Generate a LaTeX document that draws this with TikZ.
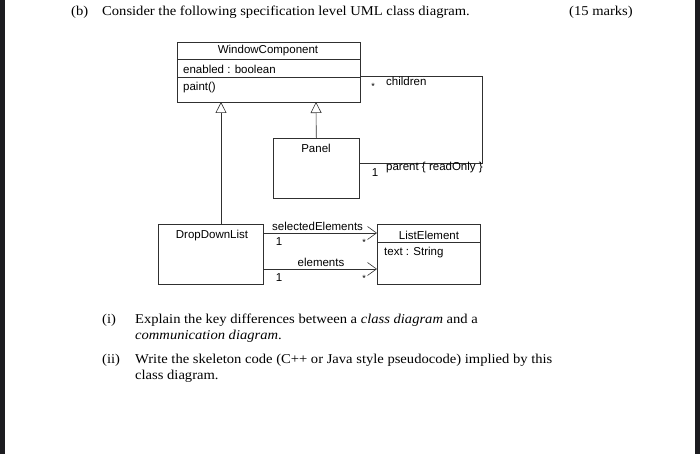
\documentclass[tikz,border=0pt]{standalone}
\usepackage{xcolor}
\usepackage{fontspec}
\setmainfont[FakeStretch=1.08]{Liberation Serif}
\newfontfamily\umlfont{Liberation Sans}
\usetikzlibrary{positioning,arrows.meta}

\definecolor{edgedark}{HTML}{1C1C20}
\definecolor{umlline}{HTML}{303030}

\tikzset{
  classbox/.style={draw=umlline, line width=0.6pt, rectangle, inner sep=0pt, anchor=north west},
  umltext/.style={font=\umlfont\fontsize{11.5}{13}\selectfont, inner sep=0pt},
  multtext/.style={font=\umlfont\fontsize{9}{10}\selectfont, inner sep=0pt},
  qtext/.style={font=\fontsize{13.5}{16}\selectfont, inner sep=0pt, anchor=base west},
  umledge/.style={umlline, line width=0.6pt},
  genarrow/.style={umledge, -{Triangle[open,length=11pt,width=11pt]}},
  assocarrow/.style={umledge, -{Straight Barb[length=9pt,width=13pt]}}
}

\begin{document}
\begin{tikzpicture}[x=1pt,y=-1pt]
          \useasboundingbox (0,0) rectangle (700,454);
          \fill[edgedark] (0,0) rectangle (5,454);
          \fill[edgedark] (695,0) rectangle (700,454);

          % question text
          \node[qtext] (qb) at (71,16) {(b)};
          \node[qtext] (qhead) at (102,16) {Consider the following specification level UML class diagram.};
          \node[qtext] (marks) at (569,16) {(15 marks)};

          % classes
          \node[classbox, minimum width=183pt, minimum height=60pt] (wc) at (177,42) {};
          \draw[umledge] ([yshift=-17pt]wc.north west) -- ([yshift=-17pt]wc.north east);
          \draw[umledge] ([yshift=-35pt]wc.north west) -- ([yshift=-35pt]wc.north east);
          \node[umltext] (wcname) at (268,51) {WindowComponent};
          \node[umltext, anchor=west] (wcattr) at (183,69) {enabled : boolean};
          \node[umltext, anchor=west] (wcop) at (183,88) {paint()};

          \node[classbox, minimum width=86pt, minimum height=60pt] (panel) at (273,138) {};
          \node[umltext] (panelname) at (316,148) {Panel};

          \node[classbox, minimum width=105pt, minimum height=60pt] (ddl) at (158,224) {};
          \node[umltext] (ddlname) at (212,236) {DropDownList};

          \node[classbox, minimum width=103pt, minimum height=60pt] (le) at (377,224) {};
          \draw[umledge] ([yshift=-18pt]le.north west) -- ([yshift=-18pt]le.north east);
          \node[umltext] (lename) at (429,235) {ListElement};
          \node[umltext, anchor=west] (leattr) at (384,253) {text : String};

          % generalizations
          \coordinate (g1) at (221,102);
          \coordinate (g2) at (316,102);
          \draw[genarrow] (ddl.north -| g1) -- (g1);
          \draw[genarrow] (panel.north) -- (g2);

          % children / parent
          \coordinate (c1) at (482,76);
          \coordinate (c2) at (482,163);
          \draw[umledge] (wc.east |- c1) -- (c1) -- (c2) -- (panel.east |- c2);
          \node[multtext] (cstar) at (373,86) {*};
          \node[umltext, anchor=west] (children) at (386,81) {children};
          \node[umltext] (pone) at (375,173) {1};
          \node[umltext, anchor=west] (parent) at (386,168) {parent \{ readOnly \}};

          % associations
          \draw[assocarrow] ([yshift=-9pt]ddl.north east) -- ([yshift=-9pt]le.north west);
          \draw[assocarrow] ([yshift=-45pt]ddl.north east) -- ([yshift=-45pt]le.north west);
          \node[umltext, anchor=west] (selname) at (272,226) {selectedElements};
          \node[umltext] (selone) at (279,242) {1};
          \node[multtext] (selstar) at (364,242) {*};
          \node[umltext] (elname) at (321,262) {elements};
          \node[umltext] (elone) at (279,278) {1};
          \node[multtext] (elstar) at (364,278) {*};

          % questions
          \node[qtext] (qi) at (102,323) {(i)};
          \node[qtext] (qitext) at (135,323) {Explain the key differences between a \emph{class diagram} and a};
          \node[qtext] (qitext2) at (135,339) {\emph{communication diagram}.};
          \node[qtext] (qii) at (102,363) {(ii)};
          \node[qtext] (qiitext) at (135,363) {Write the skeleton code (C++ or Java style pseudocode) implied by this};
          \node[qtext] (qiitext2) at (135,379) {class diagram.};
\end{tikzpicture}
\end{document}
